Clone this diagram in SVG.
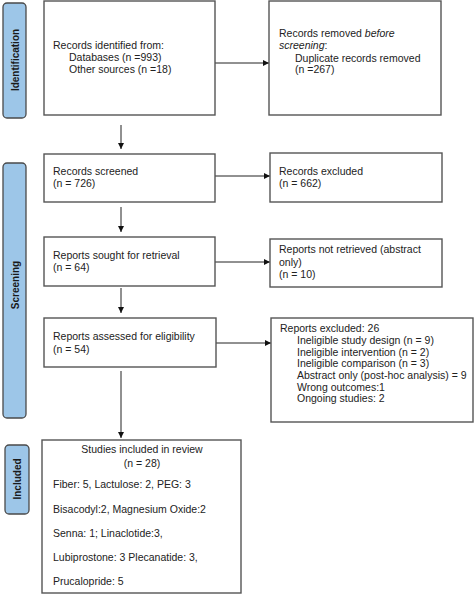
<svg xmlns="http://www.w3.org/2000/svg" width="474" height="594" viewBox="0 0 474 594">
<style>
.box{fill:#fff;stroke:#555;stroke-width:1.4}
.side{fill:#9dc6e8;stroke:#4a4a4a;stroke-width:1.3}
.t{font-family:"Liberation Sans",Arial,sans-serif;font-size:10.5px;fill:#222}
.s{font-family:"Liberation Sans",Arial,sans-serif;font-size:10px;font-weight:bold;fill:#1a1a1a}
.c{stroke:#222;stroke-width:1;fill:none}
</style>
<defs>
<marker id="ah" viewBox="0 0 10 10" refX="10" refY="5" markerWidth="6" markerHeight="6" orient="auto" markerUnits="userSpaceOnUse">
<path d="M0,0 L10,5 L0,10 z" fill="#111"/>
</marker>
</defs>
<rect width="474" height="594" fill="#fff"/>
<g id="phase-identification">
<rect class="side" x="3" y="3" width="23" height="115" rx="4"/>
<text class="s" text-anchor="middle" transform="translate(18.5,60) rotate(-90)">Identification</text>
</g>
<g id="phase-screening">
<rect class="side" x="3" y="163" width="23" height="255" rx="4"/>
<text class="s" text-anchor="middle" transform="translate(18.5,285) rotate(-90)">Screening</text>
</g>
<g id="phase-included">
<rect class="side" x="5" y="445" width="24" height="69" rx="4"/>
<text class="s" text-anchor="middle" transform="translate(20.5,479) rotate(-90)">Included</text>
</g>
<g id="connectors">
<line class="c" x1="215" y1="63" x2="269" y2="63" marker-end="url(#ah)"/>
<line class="c" x1="121" y1="125" x2="121" y2="149" marker-end="url(#ah)"/>
<line class="c" x1="215" y1="176" x2="270" y2="176" marker-end="url(#ah)"/>
<line class="c" x1="121" y1="207" x2="121" y2="232" marker-end="url(#ah)"/>
<line class="c" x1="215" y1="262" x2="270" y2="262" marker-end="url(#ah)"/>
<line class="c" x1="121" y1="288" x2="121" y2="313" marker-end="url(#ah)"/>
<line class="c" x1="215" y1="343" x2="271" y2="343" marker-end="url(#ah)"/>
<line class="c" x1="121" y1="371" x2="121" y2="438" marker-end="url(#ah)"/>
</g>
<g id="records-identified">
<rect class="box" x="44" y="1" width="171" height="114"/>
<text class="t" x="53" y="49">Records identified from:</text>
<text class="t" x="69" y="61">Databases (n =993)</text>
<text class="t" x="69" y="73">Other sources (n =18)</text>
</g>
<g id="records-removed">
<rect class="box" x="269" y="1" width="172" height="114"/>
<text class="t" x="279" y="37">Records removed <tspan font-style="italic">before</tspan></text>
<text class="t" x="279" y="49"><tspan font-style="italic">screening</tspan>:</text>
<text class="t" x="295" y="62">Duplicate records removed</text>
<text class="t" x="295" y="73">(n =267)</text>
</g>
<g id="records-screened">
<rect class="box" x="44" y="154" width="171" height="48"/>
<text class="t" x="53" y="175">Records screened</text>
<text class="t" x="53" y="187">(n = 726)</text>
</g>
<g id="records-excluded">
<rect class="box" x="270" y="153" width="172" height="49"/>
<text class="t" x="279" y="175">Records excluded</text>
<text class="t" x="279" y="187">(n = 662)</text>
</g>
<g id="reports-sought">
<rect class="box" x="44" y="237" width="171" height="49"/>
<text class="t" x="53" y="259">Reports sought for retrieval</text>
<text class="t" x="53" y="271">(n = 64)</text>
</g>
<g id="reports-not-retrieved">
<rect class="box" x="270" y="239" width="172" height="48"/>
<text class="t" x="279" y="253">Reports not retrieved (abstract</text>
<text class="t" x="279" y="265.5">only)</text>
<text class="t" x="279" y="278">(n = 10)</text>
</g>
<g id="reports-assessed">
<rect class="box" x="44" y="318" width="172" height="49"/>
<text class="t" x="53" y="340">Reports assessed for eligibility</text>
<text class="t" x="53" y="353">(n = 54)</text>
</g>
<g id="reports-excluded">
<rect class="box" x="271" y="318" width="202" height="104"/>
<text class="t" x="280" y="332">Reports excluded: 26</text>
<text class="t" x="297" y="344">Ineligible study design (n = 9)</text>
<text class="t" x="297" y="355.5">Ineligible intervention (n = 2)</text>
<text class="t" x="297" y="367">Ineligible comparison (n = 3)</text>
<text class="t" x="297" y="379">Abstract only (post-hoc analysis) = 9</text>
<text class="t" x="297" y="390.5">Wrong outcomes:1</text>
<text class="t" x="297" y="402">Ongoing studies: 2</text>
</g>
<g id="studies-included">
<rect class="box" x="42" y="440" width="199" height="153"/>
<text class="t" x="142" y="453" text-anchor="middle">Studies included in review</text>
<text class="t" x="142" y="467" text-anchor="middle">(n = 28)</text>
<text class="t" x="53" y="488">Fiber: 5, Lactulose: 2, PEG: 3</text>
<text class="t" x="53" y="513">Bisacodyl:2, Magnesium Oxide:2</text>
<text class="t" x="53" y="537">Senna: 1; Linaclotide:3,</text>
<text class="t" x="53" y="561">Lubiprostone: 3 Plecanatide: 3,</text>
<text class="t" x="53" y="585">Prucalopride: 5</text>
</g>
</svg>
